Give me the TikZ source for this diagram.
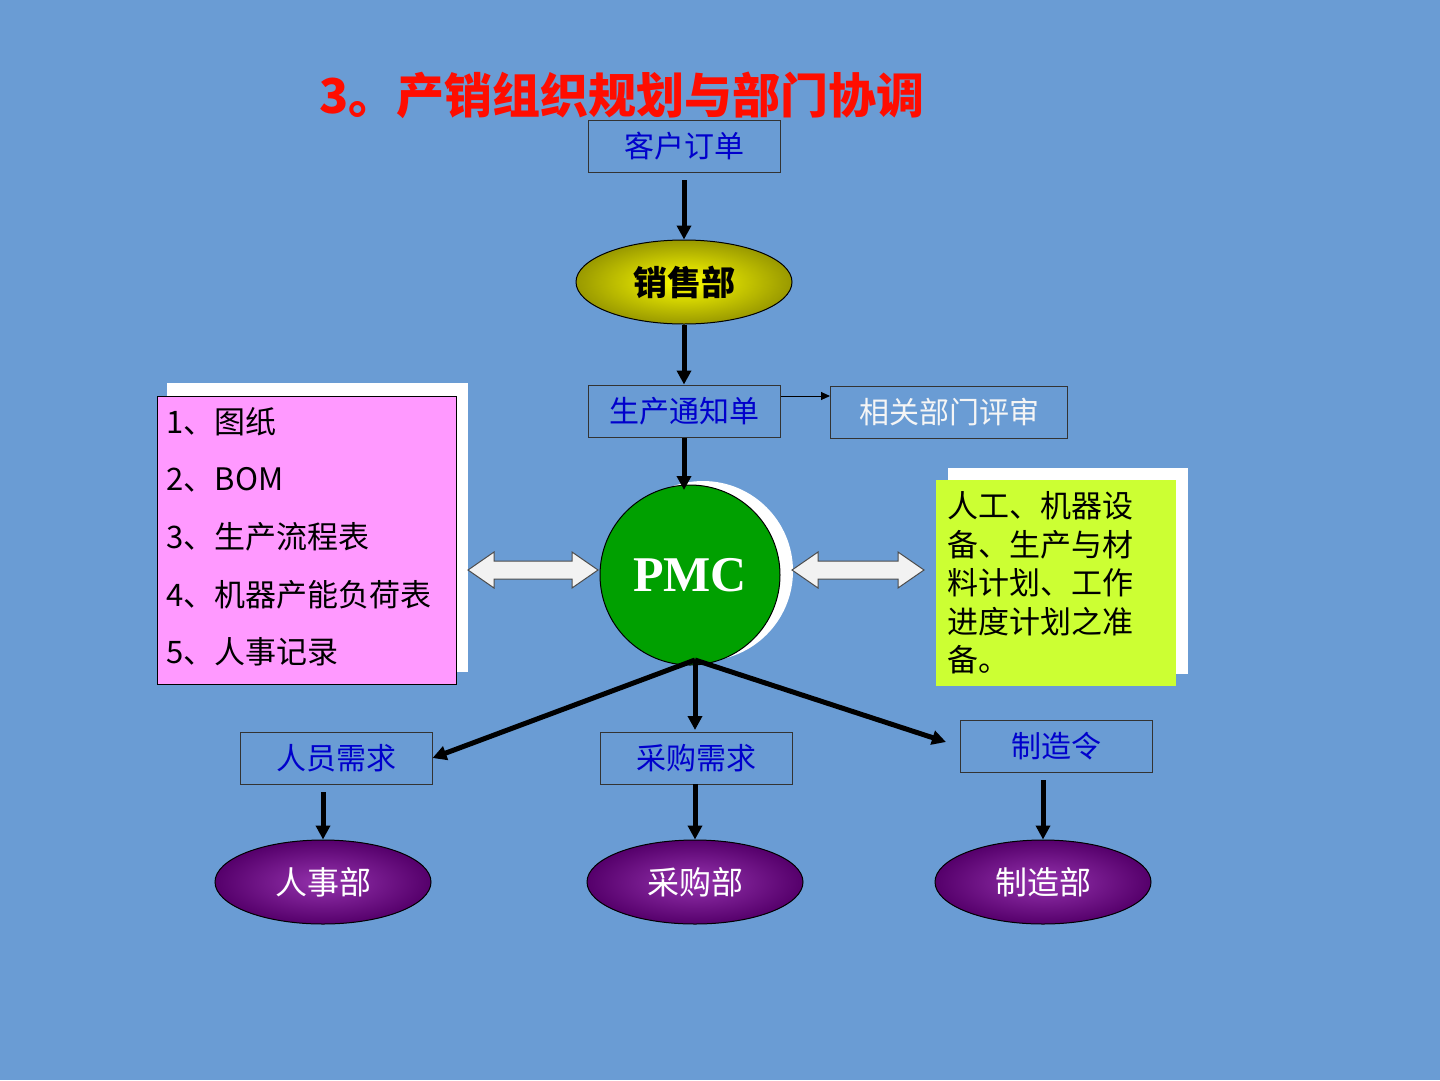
\documentclass[tikz,border=0pt]{standalone}
\usepackage{fontspec}
\setmainfont{Liberation Serif}
\newfontfamily\cjk{Noto Sans CJK SC}
\usetikzlibrary{arrows.meta,shapes.geometric}
\definecolor{bg}{HTML}{6A9CD4}
\definecolor{tblue}{HTML}{0000CC}
\definecolor{pink}{HTML}{FF99FF}
\definecolor{lime}{HTML}{CCFF33}
\definecolor{pmcg}{HTML}{00A000}
\definecolor{purp}{HTML}{7A0099}
\begin{document}
\begin{tikzpicture}[x=1pt,y=-1pt,
 box/.style={draw=black!80,line width=1pt,minimum width=192pt,minimum height=52pt,font=\cjk\fontsize{30}{34}\selectfont,text=tblue},
 yel/.style={ellipse,draw=black,line width=1pt,minimum width=216pt,minimum height=84pt,inner color=yellow,outer color=yellow!60!black,font=\cjk\bfseries\fontsize{34}{38}\selectfont},
 pur/.style={ellipse,draw=black,line width=1pt,minimum width=216pt,minimum height=84pt,inner color=purp!80!white,outer color=purp!70!black,text=white,font=\cjk\fontsize{32}{36}\selectfont},
 arr/.style={-{Triangle[length=14pt,width=14pt]},line width=5pt},
 dbl/.style={draw=black!70,fill=white!90!gray,line width=1pt},
 txt/.style={anchor=west,font=\cjk\fontsize{31}{34}\selectfont}]
\fill[bg] (0,0) rectangle (1440,1080);
\useasboundingbox (0,0) rectangle (1440,1080);
\node[text=red!90!orange,font=\cjk\bfseries\fontsize{48}{54}\selectfont] (title) at (622,95) {3。产销组织规划与部门协调};
\node[box] (kh) at (684,146) {客户订单};
\node[yel] (xs) at (684,282) {销售部};
\node[box] (sc) at (684,411) {生产通知单};
\node[box,minimum width=237pt,text=white!92!gray] (xg) at (949,412) {相关部门评审};
\fill[white] (167,383) rectangle (468,672);
\node[draw=black,line width=1pt,fill=pink,minimum width=299pt,minimum height=288pt,inner sep=0pt] (pk) at (306.5,540) {};
\foreach \t [count=\i] in {1、图纸,2、BOM,3、生产流程表,4、机器产能负荷表,5、人事记录}
 \node[txt] (p\i) at (163,{422+(\i-1)*57.5}) {\t};
\fill[white] (948,468) rectangle (1188,674);
\node[fill=lime,minimum width=240pt,minimum height=206pt,inner sep=0pt] (gy) at (1056,583) {};
\foreach \t [count=\i] in {人工、机器设,备、生产与材,料计划、工作,进度计划之准,备。}
 \node[txt] (g\i) at (944,{506+(\i-1)*38.5}) {\t};
\fill[white] (703,571) circle (90);
\node[circle,draw=black,line width=1pt,fill=pmcg,minimum size=180pt,text=white,font=\bfseries\fontsize{50}{56}\selectfont] (pmc) at (690,575) {PMC};
\foreach \a/\b in {468/598,792/924}
 \draw[dbl] (\a,570) -- (\a+26,552) -- (\a+26,561) -- (\b-26,561) -- (\b-26,552) -- (\b,570) -- (\b-26,588) -- (\b-26,579) -- (\a+26,579) -- (\a+26,588) -- cycle;
\node[box] (ry) at (336,758) {人员需求};
\node[box] (cg) at (696,758) {采购需求};
\node[box] (zz) at (1056,746) {制造令};
\node[pur] (rs) at (323,882) {人事部};
\node[pur] (cgb) at (695,882) {采购部};
\node[pur] (zzb) at (1043,882) {制造部};
\coordinate (hub) at (695,660);
\draw[arr] (684,180) -- (xs.north);
\draw[arr] (xs.south) -- (sc.north);
\draw[-{Triangle[length=9pt,width=8pt]},line width=1pt] (sc.east|-780,396) -- (xg.west|-780,396);
\draw[arr] (sc.south) -- (684,490);
\draw[arr] (hub) -- (ry.east);
\draw[arr] (hub) -- (695,730);
\draw[arr] (hub) -- (946,742);
\draw[arr] (323,792) -- (rs.north);
\draw[arr] (695,784) -- (cgb.north);
\draw[arr] (1043,780) -- (zzb.north);
\end{tikzpicture}
\end{document}
